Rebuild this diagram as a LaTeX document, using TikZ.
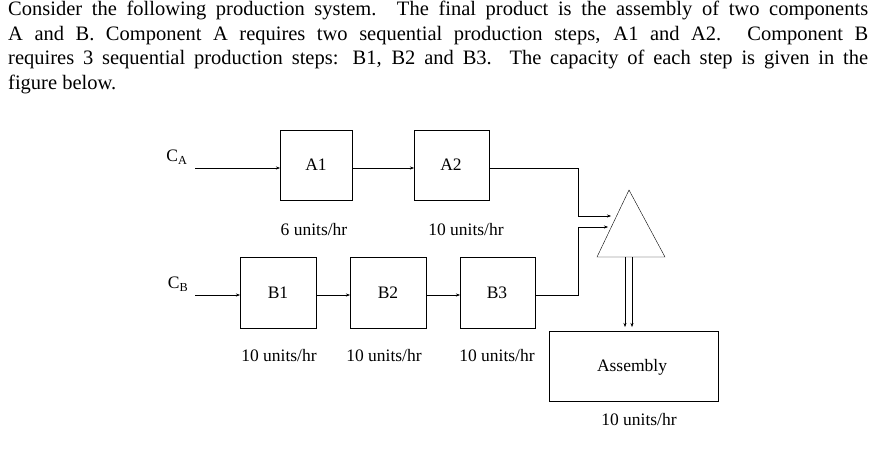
\documentclass[tikz,border=0pt]{standalone}
\usepackage{fontspec}
\setmainfont{Liberation Serif}
\usetikzlibrary{arrows.meta}
\begin{document}
\begin{tikzpicture}[x=1pt,y=-1pt,
  blk/.style={draw,thin},
  lab/.style={font=\fontsize{17.5}{20}\selectfont},
  arr/.style={-{Stealth[length=4pt,width=3pt]},thin}]
\useasboundingbox (0,0) rectangle (880,466);
\node[anchor=north west,inner sep=0pt,text width=860pt,align=justify,font=\fontsize{20.5}{24.5}\selectfont] (txt) at (8,1)
{\hyphenpenalty=10000 Consider the following production system. The final product is the assembly of two components\linebreak A and B. Component A requires two sequential production steps, A1 and A2. Component B\linebreak requires 3 sequential production steps: B1, B2 and B3.\ \ The capacity of each step is given in the\linebreak figure below.};
\draw[blk] (280,130) rectangle (352,200); \node[lab] (A1) at (316,165) {A1};
\draw[blk] (414,130) rectangle (489,200); \node[lab] (A2) at (451,165) {A2};
\draw[blk] (240,257) rectangle (316,328); \node[lab] (B1) at (278,293) {B1};
\draw[blk] (350,257) rectangle (426,328); \node[lab] (B2) at (388,293) {B2};
\draw[blk] (460,257) rectangle (535,328); \node[lab] (B3) at (497,293) {B3};
\draw[blk] (549,331) rectangle (718,401); \node[lab] (As) at (632,367) {Assembly};
\draw[thin] (629,190) -- (597,257) -- (665,257) -- cycle;
\node[lab] (CA) at (177,157) {C\textsubscript{A}};
\node[lab] (CB) at (178,284) {C\textsubscript{B}};
\draw[arr] (195,168) -- (280,168);
\draw[arr] (352,168) -- (414,168);
\draw[thin] (489,168) -- (578,168) -- (578,216); \draw[arr] (578,216) -- (611,216);
\draw[arr] (195,295) -- (240,295);
\draw[arr] (316,295) -- (350,295);
\draw[arr] (426,295) -- (460,295);
\draw[thin] (535,295) -- (578,295) -- (578,227); \draw[arr] (578,227) -- (608,227);
\draw[arr] (625,257) -- (625,327);
\draw[arr] (632,257) -- (632,327);
\node[lab] (l1) at (314,230) {6 units/hr};
\node[lab] (l2) at (466,230) {10 units/hr};
\node[lab] (l3) at (279,356) {10 units/hr};
\node[lab] (l4) at (384,356) {10 units/hr};
\node[lab] (l5) at (497,356) {10 units/hr};
\node[lab] (l6) at (639,420) {10 units/hr};
\end{tikzpicture}
\end{document}
